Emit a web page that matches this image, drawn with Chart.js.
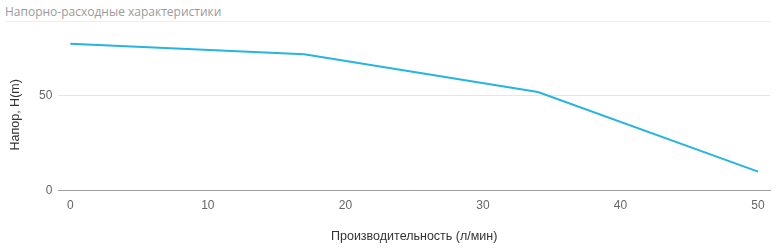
<!DOCTYPE html>
<html>
<head>
<meta charset="utf-8">
<script src="https://cdn.jsdelivr.net/npm/chart.js@4"></script>
<style>
    body { margin: 0; background: #fff; }
    .title {
        margin: 0 5px;
        height: 21px;
        line-height: 24px;
        border-bottom: 1px solid #eeeeee;
        font-family: "Open Sans", sans-serif;
        font-size: 12px;
        color: #9a9a9a;
        white-space: nowrap;
    }
    .wrap { position: relative; width: 776px; height: 227px; }
</style>
</head>
<body>
<div class="title">Напорно-расходные характеристики</div>
<div class="wrap"><canvas id="pumpChart"></canvas></div>
<script>
// Data
const flowValues = [0, 17, 34, 50];
const headValues = [77.5, 72, 52, 10];
const xTicks = [0, 10, 20, 30, 40, 50];
const yTicks = [0, 50];

Chart.defaults.font.family = '"Liberation Sans", Arial, sans-serif';
Chart.defaults.font.size = 12;

const ctx = document.getElementById('pumpChart').getContext('2d');
const pumpChart = new Chart(ctx, {
    type: 'line',
    data: {
        datasets: [{
            data: flowValues.map((x, i) => ({ x: x, y: headValues[i] })),
            borderColor: '#27b4e0',
            borderWidth: 2,
            pointRadius: 0,
            fill: false,
            tension: 0
        }]
    },
    options: {
        responsive: true,
        maintainAspectRatio: false,
        animation: false,
        layout: { padding: { top: 17, right: 6, left: 4, bottom: 1 } },
        plugins: {
            legend: { display: false },
            tooltip: { enabled: false }
        },
        scales: {
            x: {
                type: 'linear',
                min: -0.87,
                max: 50.87,
                afterBuildTicks: axis => { axis.ticks = xTicks.map(v => ({ value: v })); },
                grid: { display: false, drawTicks: false },
                border: { display: true, color: '#9e9e9e' },
                ticks: { color: '#666', padding: 8 },
                title: {
                    display: true,
                    text: 'Производительность (л/мин)',
                    color: '#333',
                    font: { size: 12.5 },
                    padding: { top: 8 }
                }
            },
            y: {
                min: 0,
                max: 80,
                afterBuildTicks: axis => { axis.ticks = yTicks.map(v => ({ value: v })); },
                grid: { color: '#e6e6e6', drawTicks: false },
                border: { display: false },
                ticks: { color: '#666', padding: 6 },
                title: {
                    display: true,
                    text: 'Напор, H(m)',
                    color: '#333',
                    font: { size: 12.5 },
                    padding: { bottom: 10 }
                }
            }
        }
    }
});
</script>
</body>
</html>
